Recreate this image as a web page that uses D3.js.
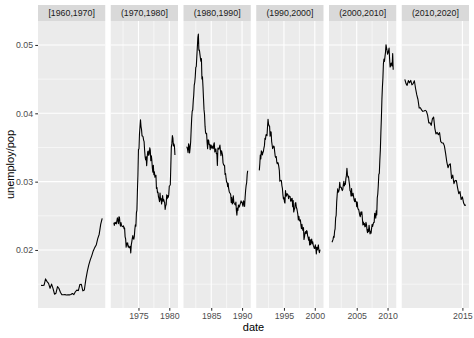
<!DOCTYPE html>
<html>
<head>
<meta charset="utf-8">
<script src="https://cdn.jsdelivr.net/npm/d3@7"></script>
<style>
  body { margin: 0; background: #ffffff; }
  text { font-family: "Liberation Sans", Arial, Helvetica, sans-serif; }
</style>
</head>
<body>
<svg id="chart" width="474" height="338"></svg>
<script>
// Unemployed share of the US population, monthly, split into decades.
const stripLabels = ["[1960,1970]", "(1970,1980]", "(1980,1990]", "(1990,2000]", "(2000,2010]", "(2010,2020]"];
const firstMonth = ["1967-07", "1971-01", "1981-01", "1991-01", "2001-01", "2011-01"];

const ratio1960s = [
  0.01482, 0.01481, 0.01486, 0.01577, 0.01537, 0.01511,
  0.01440, 0.01501, 0.01438, 0.01353, 0.01367, 0.01465, 0.01436, 0.01377, 0.01344, 0.01345, 0.01347, 0.01342,
  0.01346, 0.01343, 0.01348, 0.01363, 0.01347, 0.01389, 0.01413, 0.01406, 0.01495, 0.01498, 0.01402, 0.01415,
  0.01569, 0.01691, 0.01778, 0.01856, 0.01914, 0.01986, 0.02035, 0.02072, 0.02167, 0.02231, 0.02378, 0.02462
];
const ratio1970s = [
  0.02401, 0.02361, 0.02401, 0.02388, 0.02405, 0.02383, 0.02424, 0.02472, 0.02428, 0.02385, 0.02485, 0.02481,
  0.02391, 0.02348, 0.02400, 0.02363, 0.02345, 0.02345, 0.02341, 0.02353, 0.02310, 0.02323, 0.02192, 0.02164,
  0.02042, 0.02101, 0.02074, 0.02104, 0.02043, 0.02059, 0.02032, 0.02032, 0.02053, 0.01956, 0.02075, 0.02118,
  0.02171, 0.02212, 0.02166, 0.02159, 0.02200, 0.02303, 0.02367, 0.02348, 0.02542, 0.02582, 0.02870, 0.03102,
  0.03473, 0.03481, 0.03694, 0.03801, 0.03904, 0.03806, 0.03763, 0.03670, 0.03668, 0.03656, 0.03608, 0.03585,
  0.03456, 0.03361, 0.03317, 0.03362, 0.03235, 0.03359, 0.03436, 0.03449, 0.03385, 0.03408, 0.03495, 0.03461,
  0.03306, 0.03380, 0.03318, 0.03206, 0.03139, 0.03240, 0.03101, 0.03145, 0.03066, 0.03071, 0.03095, 0.02900,
  0.02915, 0.02838, 0.02847, 0.02776, 0.02752, 0.02708, 0.02834, 0.02731, 0.02752, 0.02672, 0.02730, 0.02798,
  0.02714, 0.02742, 0.02714, 0.02696, 0.02594, 0.02647, 0.02664, 0.02808, 0.02750, 0.02797, 0.02771, 0.02810,
  0.02935, 0.02943, 0.02955, 0.03231, 0.03506, 0.03556, 0.03673, 0.03637, 0.03523, 0.03552, 0.03523, 0.03390
];
const ratio1980s = [
  0.03511, 0.03502, 0.03472, 0.03423, 0.03555, 0.03522, 0.03420, 0.03495, 0.03580, 0.03761, 0.03927, 0.04031,
  0.04047, 0.04180, 0.04261, 0.04412, 0.04451, 0.04538, 0.04672, 0.04686, 0.04831, 0.04965, 0.05110, 0.05160,
  0.04923, 0.04927, 0.04869, 0.04809, 0.04761, 0.04800, 0.04502, 0.04534, 0.04388, 0.04220, 0.04054, 0.03983,
  0.03812, 0.03720, 0.03701, 0.03708, 0.03578, 0.03481, 0.03613, 0.03605, 0.03541, 0.03547, 0.03469, 0.03537,
  0.03532, 0.03489, 0.03496, 0.03520, 0.03481, 0.03547, 0.03569, 0.03436, 0.03458, 0.03479, 0.03408, 0.03412,
  0.03238, 0.03491, 0.03483, 0.03475, 0.03506, 0.03535, 0.03456, 0.03380, 0.03452, 0.03425, 0.03390, 0.03275,
  0.03250, 0.03239, 0.03238, 0.03106, 0.03119, 0.03047, 0.02993, 0.02991, 0.02925, 0.02977, 0.02897, 0.02857,
  0.02838, 0.02828, 0.02807, 0.02694, 0.02767, 0.02672, 0.02696, 0.02793, 0.02696, 0.02681, 0.02668, 0.02660,
  0.02702, 0.02571, 0.02509, 0.02615, 0.02578, 0.02659, 0.02626, 0.02633, 0.02665, 0.02681, 0.02719, 0.02696,
  0.02701, 0.02660, 0.02639, 0.02719, 0.02697, 0.02636, 0.02769, 0.02875, 0.02947, 0.02984, 0.03106, 0.03160
];
const ratio1990s = [
  0.03165, 0.03264, 0.03391, 0.03333, 0.03450, 0.03433, 0.03391, 0.03423, 0.03445, 0.03492, 0.03527, 0.03633,
  0.03619, 0.03686, 0.03688, 0.03671, 0.03799, 0.03914, 0.03840, 0.03816, 0.03813, 0.03664, 0.03729, 0.03726,
  0.03588, 0.03533, 0.03484, 0.03505, 0.03520, 0.03509, 0.03436, 0.03372, 0.03353, 0.03367, 0.03287, 0.03262,
  0.03280, 0.03262, 0.03219, 0.03166, 0.03008, 0.03013, 0.03020, 0.03015, 0.02940, 0.02901, 0.02803, 0.02748,
  0.02769, 0.02699, 0.02686, 0.02871, 0.02790, 0.02789, 0.02827, 0.02810, 0.02808, 0.02752, 0.02789, 0.02787,
  0.02781, 0.02715, 0.02716, 0.02752, 0.02755, 0.02634, 0.02723, 0.02555, 0.02591, 0.02610, 0.02686, 0.02692,
  0.02625, 0.02604, 0.02567, 0.02520, 0.02440, 0.02493, 0.02440, 0.02423, 0.02441, 0.02367, 0.02313, 0.02375,
  0.02308, 0.02286, 0.02328, 0.02153, 0.02192, 0.02252, 0.02269, 0.02240, 0.02283, 0.02276, 0.02211, 0.02186,
  0.02142, 0.02190, 0.02073, 0.02152, 0.02077, 0.02133, 0.02160, 0.02092, 0.02120, 0.02071, 0.02049, 0.02026,
  0.02023, 0.02076, 0.02032, 0.01942, 0.02040, 0.02002, 0.02037, 0.02074, 0.01993, 0.01961, 0.01998, 0.01996
];
const ratio2000s = [
  0.02113, 0.02136, 0.02155, 0.02200, 0.02185, 0.02275, 0.02310, 0.02471, 0.02506, 0.02700, 0.02808, 0.02897,
  0.02845, 0.02856, 0.02887, 0.02990, 0.02920, 0.02918, 0.02917, 0.02887, 0.02869, 0.02888, 0.02962, 0.03004,
  0.02937, 0.02971, 0.02960, 0.03048, 0.03088, 0.03194, 0.03106, 0.03067, 0.03075, 0.03010, 0.02956, 0.02867,
  0.02859, 0.02789, 0.02900, 0.02790, 0.02805, 0.02830, 0.02779, 0.02729, 0.02707, 0.02753, 0.02709, 0.02710,
  0.02634, 0.02701, 0.02618, 0.02596, 0.02589, 0.02546, 0.02506, 0.02486, 0.02556, 0.02522, 0.02560, 0.02463,
  0.02367, 0.02408, 0.02370, 0.02386, 0.02339, 0.02346, 0.02405, 0.02376, 0.02295, 0.02254, 0.02303, 0.02266,
  0.02363, 0.02300, 0.02235, 0.02274, 0.02246, 0.02317, 0.02374, 0.02346, 0.02380, 0.02403, 0.02404, 0.02538,
  0.02527, 0.02465, 0.02572, 0.02511, 0.02761, 0.02820, 0.02939, 0.03104, 0.03122, 0.03313, 0.03465, 0.03711,
  0.03930, 0.04204, 0.04376, 0.04515, 0.04726, 0.04794, 0.04759, 0.04829, 0.04892, 0.05004, 0.04961, 0.04921,
  0.04865, 0.04886, 0.04915, 0.04955, 0.04801, 0.04680, 0.04692, 0.04736, 0.04714, 0.04693, 0.04876, 0.04639
];
const ratio2010s = [
  0.04497, 0.04435, 0.04409, 0.04479, 0.04446, 0.04481, 0.04417, 0.04435, 0.04476, 0.04363, 0.04269, 0.04202,
  0.04077, 0.04082, 0.04050, 0.04029, 0.04033, 0.04043, 0.04032, 0.03973, 0.03859, 0.03862, 0.03824, 0.03918,
  0.03945, 0.03780, 0.03698, 0.03720, 0.03687, 0.03717, 0.03586, 0.03568, 0.03565, 0.03523, 0.03413, 0.03291,
  0.03204, 0.03250, 0.03260, 0.03047, 0.03096, 0.02971, 0.03018, 0.03015, 0.02909, 0.02824, 0.02855, 0.02738,
  0.02777, 0.02686, 0.02653, 0.02659
];

const yTicks = [0.02, 0.03, 0.04, 0.05];
const yMinorTicks = [0.015, 0.025, 0.035, 0.045];
const xTicks = [[], ["1975", "1980"], ["1985", "1990"], ["1995", "2000"], ["2005", "2010"], ["2015"]];
const xMinorTicks = [[], ["1972-07-02", "1977-07-02"], ["1982-07-02", "1987-07-02"],
                     ["1992-07-02", "1997-07-02"], ["2002-07-02", "2007-07-02"], []];

const series = [ratio1960s, ratio1970s, ratio1980s, ratio1990s, ratio2000s, ratio2010s];

// Layout
const W = 474, H = 338;
const plotLeft = 38, plotRight = 469;
const stripTop = 5, stripH = 16;
const panelTop = stripTop + stripH, panelBottom = 308;
const gap = 5.5;
const nP = stripLabels.length;
const panelW = (plotRight - plotLeft - gap * (nP - 1)) / nP;

const svg = d3.select("#chart");
svg.append("rect").attr("width", W).attr("height", H).attr("fill", "#ffffff");

const panels = stripLabels.map((label, i) => {
  const [yy, mm] = firstMonth[i].split("-").map(Number);
  const points = series[i].map((v, k) => ({ date: new Date(Date.UTC(yy, mm - 1 + k, 1)), value: v }));
  return { label, points, x0: plotLeft + i * (panelW + gap) };
});

// shared y scale with 5% expansion on each side
const allVals = series.flat();
const [ymin, ymax] = d3.extent(allVals);
const ypad = (ymax - ymin) * 0.05;
const y = d3.scaleLinear().domain([ymin - ypad, ymax + ypad]).range([panelBottom, panelTop]);

const parseDay = d3.utcParse("%Y-%m-%d");

panels.forEach((p, i) => {
  const [d0, d1] = d3.extent(p.points, d => d.date);
  const pad = (d1 - d0) * 0.05;
  const x = d3.scaleUtc().domain([new Date(+d0 - pad), new Date(+d1 + pad)]).range([0, panelW]);
  const g = svg.append("g").attr("transform", `translate(${p.x0},0)`);

  g.append("rect").attr("x", 0).attr("y", panelTop)
    .attr("width", panelW).attr("height", panelBottom - panelTop).attr("fill", "#EBEBEB");

  // minor grid
  g.selectAll(".ymin").data(yMinorTicks).join("line")
    .attr("x1", 0).attr("x2", panelW).attr("y1", d => y(d)).attr("y2", d => y(d))
    .attr("stroke", "#ffffff").attr("stroke-width", 0.55);
  const minorDates = xMinorTicks[i].map(parseDay);
  g.selectAll(".xmin").data(minorDates).join("line")
    .attr("x1", d => x(d)).attr("x2", d => x(d)).attr("y1", panelTop).attr("y2", panelBottom)
    .attr("stroke", "#ffffff").attr("stroke-width", 0.55);

  // major grid
  g.selectAll(".ymaj").data(yTicks).join("line")
    .attr("x1", 0).attr("x2", panelW).attr("y1", d => y(d)).attr("y2", d => y(d))
    .attr("stroke", "#ffffff").attr("stroke-width", 1.1);
  const majorDates = xTicks[i].map(s => new Date(Date.UTC(+s, 0, 1)));
  g.selectAll(".xmaj").data(majorDates).join("line")
    .attr("x1", d => x(d)).attr("x2", d => x(d)).attr("y1", panelTop).attr("y2", panelBottom)
    .attr("stroke", "#ffffff").attr("stroke-width", 1.1);

  // the series line
  const line = d3.line().x(d => x(d.date)).y(d => y(d.value));
  g.append("path").datum(p.points).attr("d", line)
    .attr("fill", "none").attr("stroke", "#000000").attr("stroke-width", 1.1)
    .attr("stroke-linejoin", "round");

  // strip
  g.append("rect").attr("x", 0).attr("y", stripTop).attr("width", panelW).attr("height", stripH)
    .attr("fill", "#D9D9D9");
  g.append("text").attr("x", panelW / 2).attr("y", stripTop + stripH / 2 + 3.1)
    .attr("text-anchor", "middle").attr("font-size", "8.8px").attr("fill", "#1A1A1A")
    .text(p.label);

  // bottom axis
  const xAxis = d3.axisBottom(x).tickValues(majorDates).tickFormat(d3.utcFormat("%Y"))
    .tickSize(2.75).tickPadding(2.2);
  const ax = g.append("g").attr("transform", `translate(0,${panelBottom})`).call(xAxis);
  ax.select(".domain").remove();
  ax.selectAll(".tick line").attr("stroke", "#333333").attr("stroke-width", 1.07);
  ax.selectAll(".tick text").attr("fill", "#4D4D4D").attr("font-size", "8.8px")
    .attr("font-family", "Liberation Sans, Arial, sans-serif");

  if (i === 0) {
    const yAxis = d3.axisLeft(y).tickValues(yTicks).tickFormat(d3.format(".2f"))
      .tickSize(2.75).tickPadding(2.2);
    const ay = g.append("g").call(yAxis);
    ay.select(".domain").remove();
    ay.selectAll(".tick line").attr("stroke", "#333333").attr("stroke-width", 1.07);
    ay.selectAll(".tick text").attr("fill", "#4D4D4D").attr("font-size", "8.8px")
      .attr("font-family", "Liberation Sans, Arial, sans-serif");
  }
});

// axis titles
svg.append("text").attr("x", (plotLeft + plotRight) / 2).attr("y", 331)
  .attr("text-anchor", "middle").attr("font-size", "11px").attr("fill", "#000000").text("date");
svg.append("text")
  .attr("transform", `translate(14,${(panelTop + panelBottom) / 2}) rotate(-90)`)
  .attr("text-anchor", "middle").attr("font-size", "11px").attr("fill", "#000000").text("unemploy/pop");
</script>
</body>
</html>
